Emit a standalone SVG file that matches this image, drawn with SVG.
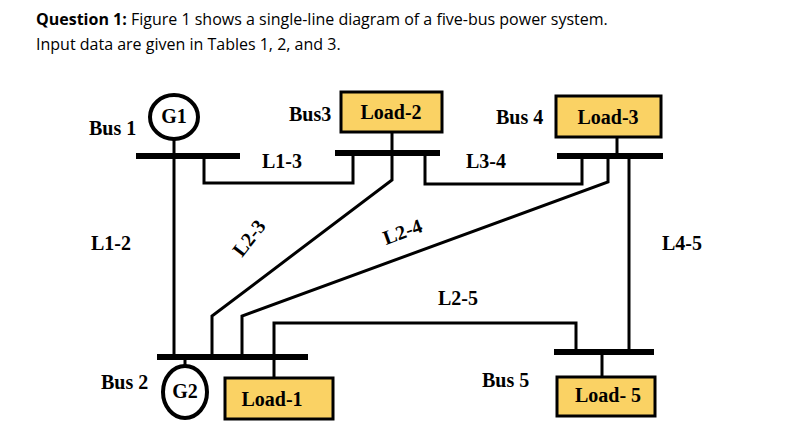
<svg xmlns="http://www.w3.org/2000/svg" width="796" height="437" viewBox="0 0 796 437">
<style>
.t{font-family:"Liberation Serif",serif;font-weight:bold;font-size:20px;fill:#000}
.h{font-family:"Open Sans","Liberation Sans",sans-serif;font-size:16px;fill:#000}
.bus{stroke:#000;stroke-width:6;fill:none}
.ln{stroke:#000;stroke-width:3;fill:none}
.ld{fill:#FAD264;stroke:#000;stroke-width:3}
.g{fill:#fff;stroke:#000;stroke-width:4}
</style>
<rect width="796" height="437" fill="#fff"/>
<text class="h" x="36" y="25"><tspan font-weight="bold">Question 1:</tspan> Figure 1 shows a single-line diagram of a five-bus power system.</text>
<text class="h" x="36" y="50">Input data are given in Tables 1, 2, and 3.</text>
<g id="connectors">
<polyline class="ln" points="174,139 174,357"/>
<polyline class="ln" points="204,156 204,183 353,183 353,154"/>
<polyline class="ln" points="392,132 392,180 212,316 212,357"/>
<polyline class="ln" points="425,154 425,184 582,184 582,156"/>
<polyline class="ln" points="617,137 617,156"/>
<polyline class="ln" points="608,156 608,182 242,316 242,357"/>
<polyline class="ln" points="629,156 629,352"/>
<polyline class="ln" points="274,357 274,323 576,323 576,352"/>
<polyline class="ln" points="274,357 274,378"/>
<polyline class="ln" points="602,352 602,377"/>
<polyline class="ln" points="185,357 185,366"/>
</g>
<g id="bus1"><line class="bus" x1="136" y1="156" x2="240" y2="156"/><text class="t" x="89" y="135">Bus 1</text></g>
<g id="bus3"><line class="bus" x1="335" y1="153" x2="440" y2="153"/><text class="t" x="289" y="121">Bus3</text></g>
<g id="bus4"><line class="bus" x1="557" y1="156" x2="663" y2="156"/><text class="t" x="496" y="124">Bus 4</text></g>
<g id="bus2"><line class="bus" x1="157" y1="357" x2="308" y2="357"/><text class="t" x="101" y="389">Bus 2</text></g>
<g id="bus5"><line class="bus" x1="554" y1="352" x2="654" y2="352"/><text class="t" x="482" y="387">Bus 5</text></g>
<g id="g1"><ellipse class="g" cx="174" cy="117" rx="24" ry="22"/><text class="t" x="174" y="123" font-size="15" text-anchor="middle">G1</text></g>
<g id="g2"><ellipse class="g" cx="185" cy="392" rx="22" ry="26"/><text class="t" x="185" y="398" font-size="15" text-anchor="middle">G2</text></g>
<g id="load2"><rect class="ld" x="341" y="92" width="101" height="40"/><text class="t" x="391" y="119" text-anchor="middle">Load-2</text></g>
<g id="load3"><rect class="ld" x="556" y="96" width="105" height="41"/><text class="t" x="608" y="124" text-anchor="middle">Load-3</text></g>
<g id="load1"><rect class="ld" x="225" y="378" width="108" height="41"/><text class="t" x="272" y="406" text-anchor="middle">Load-1</text></g>
<g id="load5"><rect class="ld" x="557" y="377" width="98" height="39"/><text class="t" x="608" y="402" text-anchor="middle">Load- 5</text></g>
<g id="labels">
<text class="t" x="262" y="168">L1-3</text>
<text class="t" x="466" y="168">L3-4</text>
<text class="t" x="91" y="250">L1-2</text>
<text class="t" x="662" y="250">L4-5</text>
<text class="t" x="438" y="305">L2-5</text>
<text class="t" font-weight="normal" font-size="17" transform="translate(242,258) rotate(-52)">L2-3</text>
<text class="t" font-weight="normal" font-size="17" transform="translate(386,245) rotate(-20)">L2-4</text>
</g>
</svg>
